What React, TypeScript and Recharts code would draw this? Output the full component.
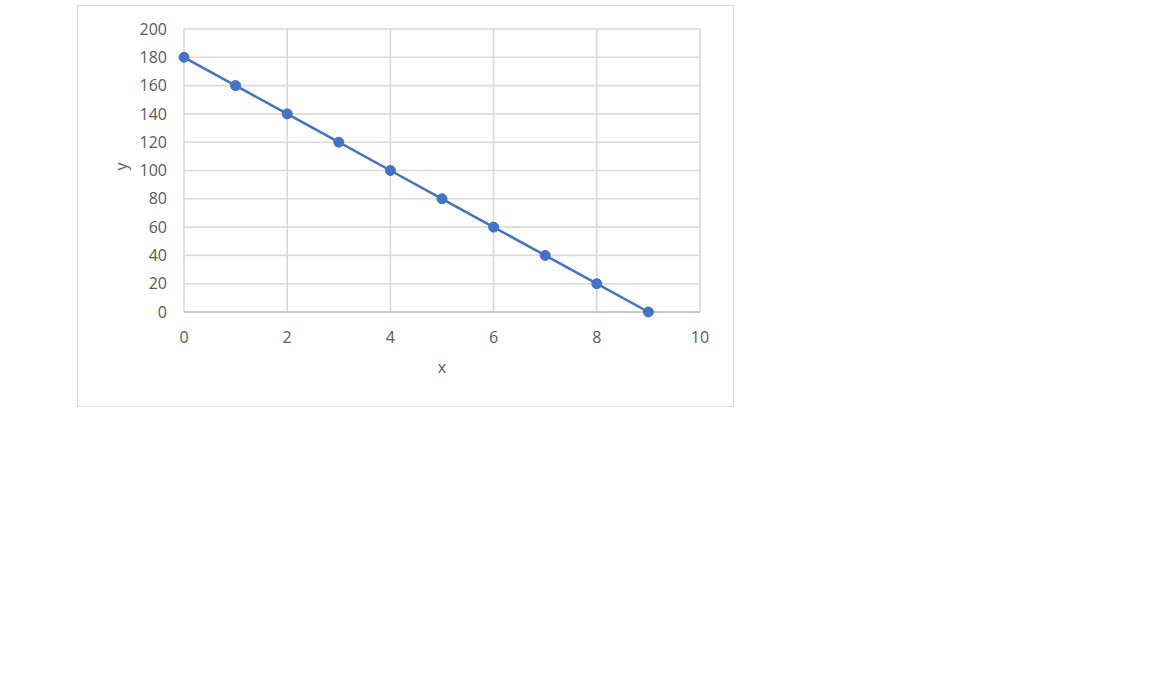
import { LineChart, Line, XAxis, YAxis, CartesianGrid } from 'recharts';

const xValues = [0, 1, 2, 3, 4, 5, 6, 7, 8, 9];
const yValues = [180, 160, 140, 120, 100, 80, 60, 40, 20, 0];
const xTicks = [0, 2, 4, 6, 8, 10];
const yTicks = [0, 20, 40, 60, 80, 100, 120, 140, 160, 180, 200];

const data = xValues.map((x, i) => ({ x, y: yValues[i] }));

const font = "'Open Sans', 'Liberation Sans', sans-serif";
const tickStyle = { fill: '#595959', fontSize: 16, fontFamily: font };

export default function App() {
  return (
    <div
      style={{
        position: 'absolute',
        left: 77,
        top: 5,
        width: 655,
        height: 400,
        border: '1px solid #d9d9d9',
        background: '#fff',
      }}
    >
      <LineChart width={655} height={400} data={data} margin={{ top: 23, right: 33, left: 35, bottom: 24 }}>
        <CartesianGrid stroke="#d9d9d9" strokeWidth={1.6} />
        <XAxis
          dataKey="x"
          type="number"
          domain={[0, 10]}
          ticks={xTicks}
          height={70}
          tickLine={false}
          tickSize={0}
          tickMargin={20}
          axisLine={{ stroke: '#bfbfbf', strokeWidth: 1.6 }}
          tick={tickStyle}
          label={{ value: 'x', position: 'insideBottom', offset: 9, style: tickStyle }}
        />
        <YAxis
          dataKey="y"
          type="number"
          domain={[0, 200]}
          ticks={yTicks}
          width={71}
          tickLine={false}
          tickSize={0}
          tickMargin={17}
          axisLine={false}
          tick={tickStyle}
          label={{ value: 'y', angle: -90, position: 'insideLeft', offset: 8, style: tickStyle }}
        />
        <Line
          dataKey="y"
          stroke="#4472c4"
          strokeWidth={2.5}
          dot={{ r: 5, fill: '#4472c4', stroke: '#4472c4', strokeWidth: 1 }}
          isAnimationActive={false}
        />
      </LineChart>
    </div>
  );
}
